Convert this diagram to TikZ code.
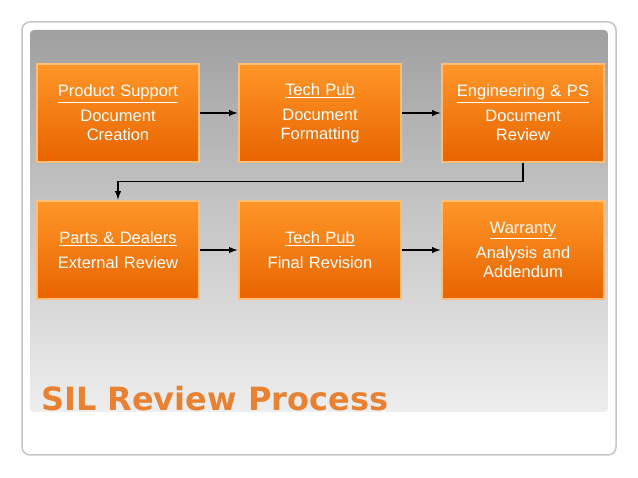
\documentclass[tikz,border=0pt]{standalone}
\usepackage{fontspec}
\setmainfont{Liberation Sans}
\newfontfamily\titlefont{DejaVu Sans}
\usetikzlibrary{positioning}
\definecolor{boxtop}{RGB}{255,150,40}
\definecolor{boxbot}{RGB}{232,100,0}
\definecolor{boxline}{RGB}{255,190,120}
\definecolor{titleorange}{RGB}{232,130,50}
\definecolor{bgtop}{RGB}{160,160,160}
\definecolor{bgbot}{RGB}{238,238,238}
\tikzset{
  stepbox/.style={draw=boxline, line width=1.2pt, top color=boxtop, bottom color=boxbot,
    minimum width=162pt, minimum height=98pt, text width=156pt, align=center,
    text=white, font=\fontsize{16.5}{19}\selectfont, inner sep=0pt},
  flow/.style={-latex, line width=1.8pt, black, shorten >=1pt}
}
\begin{document}
\begin{tikzpicture}[x=1pt,y=-1pt]
      \useasboundingbox (0,0) rectangle (638,478);
      \fill [white] (0,0) rectangle (638,478);
      \draw [gray!45, line width=1.5pt, rounded corners=8pt, fill=white] (22,22) rectangle (616,455);
      \shade [top color=bgtop, bottom color=bgbot, rounded corners=4pt] (30,30) rectangle (608,412);
      % first row
      \node [stepbox] (ps) at (118,113) {\underline{Product Support}\\[6pt]Document\\Creation};
      \node [stepbox] (tp) at (320,113) {\underline{Tech Pub}\\[6pt]Document\\Formatting};
      \node [stepbox] (eng) at (523,113) {\underline{Engineering \& PS}\\[6pt]Document\\Review};
      % second row
      \node [stepbox] (pd) at (118,250) {\underline{Parts \& Dealers}\\[6pt]External Review\\[2pt]};
      \node [stepbox] (tf) at (320,250) {\underline{Tech Pub}\\[6pt]Final Revision\\[2pt]};
      \node [stepbox] (wr) at (523,250) {\underline{Warranty}\\[6pt]Analysis and\\Addendum\\[12pt]};
      \draw [flow] (ps) -- (tp);
      \draw [flow] (tp) -- (eng);
      \draw [flow] (eng.south) -- ++(0,19) -| (pd.north);
      \draw [flow] (pd) -- (tf);
      \draw [flow] (tf) -- (wr);
      \node [anchor=base west, inner sep=0pt, text=titleorange, font=\fontsize{32}{36}\selectfont\titlefont\bfseries] (title) at (41,411) {SIL Review Process};
\end{tikzpicture}
\end{document}
